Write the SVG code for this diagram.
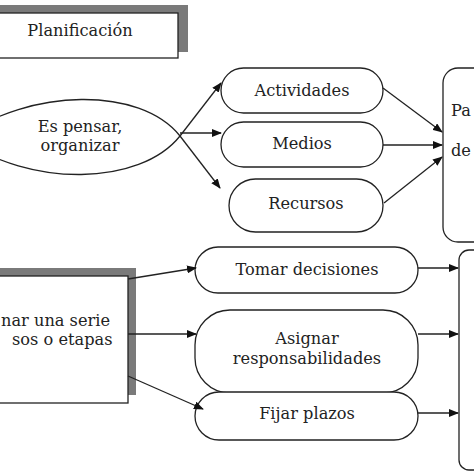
<svg xmlns="http://www.w3.org/2000/svg" width="474" height="474" viewBox="0 0 474 474">
<style>
.s{fill:#fff;stroke:#222;stroke-width:1.3}
.sh{fill:#7a7a7a}
.t{font-family:"DejaVu Serif","Liberation Serif",serif;font-size:16.2px;fill:#222;text-anchor:middle}
.c{stroke:#222;stroke-width:1.3;fill:none;marker-end:url(#a)}
</style>
<defs>
<marker id="a" markerWidth="10" markerHeight="8" refX="9" refY="4" orient="auto" markerUnits="userSpaceOnUse">
<path d="M0,0 L10,4 L0,8 Z" fill="#111"/>
</marker>
</defs>
<rect width="474" height="474" fill="#fff"/>
<g id="planificacion">
<rect class="sh" x="-5" y="5" width="193" height="47"/>
<rect class="s" x="-5" y="13" width="183" height="45"/>
<text class="t" x="80" y="36">Planificación</text>
</g>
<g id="pensar">
<path class="s" d="M180,136 C140,86 30,88 -40,138 C30,188 140,186 180,136 Z"/>
<text class="t" x="80" y="132">Es pensar,</text>
<text class="t" x="80" y="151">organizar</text>
</g>
<g id="actividades">
<rect class="s" x="221" y="68" width="162" height="45" rx="22.5"/>
<text class="t" x="302" y="96">Actividades</text>
</g>
<g id="medios">
<rect class="s" x="221" y="122" width="162" height="45" rx="22.5"/>
<text class="t" x="302" y="149">Medios</text>
</g>
<g id="recursos">
<rect class="s" x="229" y="179" width="154" height="53" rx="26.5"/>
<text class="t" x="306" y="209">Recursos</text>
</g>
<g id="derecha1">
<rect class="s" x="443" y="68" width="50" height="174" rx="15"/>
<text class="t" x="451" y="116" style="text-anchor:start">Pa</text>
<text class="t" x="451" y="156" style="text-anchor:start">de</text>
</g>
<g id="etapas">
<rect class="sh" x="-5" y="268" width="141" height="127"/>
<rect class="s" x="-5" y="276" width="133" height="127"/>
<text class="t" x="1" y="326" style="text-anchor:start">nar una serie</text>
<text class="t" x="12" y="345" style="text-anchor:start">sos o etapas</text>
</g>
<g id="tomar">
<rect class="s" x="195" y="247" width="223" height="46" rx="23"/>
<text class="t" x="307" y="275">Tomar decisiones</text>
</g>
<g id="asignar">
<rect class="s" x="195" y="310" width="223" height="83" rx="35"/>
<text class="t" x="307" y="344">Asignar</text>
<text class="t" x="307" y="364">responsabilidades</text>
</g>
<g id="fijar">
<rect class="s" x="195" y="392" width="223" height="48" rx="24"/>
<text class="t" x="307" y="419">Fijar plazos</text>
</g>
<g id="derecha2">
<rect class="s" x="459" y="250" width="40" height="220" rx="10"/>
</g>
<g id="connectors">
<line class="c" x1="180" y1="136" x2="221" y2="83"/>
<line class="c" x1="180" y1="133" x2="221" y2="133"/>
<line class="c" x1="180" y1="136" x2="220" y2="188"/>
<line class="c" x1="383" y1="88" x2="442" y2="132"/>
<line class="c" x1="383" y1="145" x2="442" y2="145"/>
<line class="c" x1="384" y1="203" x2="442" y2="157"/>
<line class="c" x1="128" y1="279" x2="196" y2="268"/>
<line class="c" x1="128" y1="334" x2="196" y2="334"/>
<line class="c" x1="128" y1="376" x2="203" y2="409"/>
<line class="c" x1="418" y1="268" x2="458" y2="268"/>
<line class="c" x1="418" y1="334" x2="458" y2="334"/>
<line class="c" x1="418" y1="413" x2="458" y2="413"/>
</g>
</svg>
